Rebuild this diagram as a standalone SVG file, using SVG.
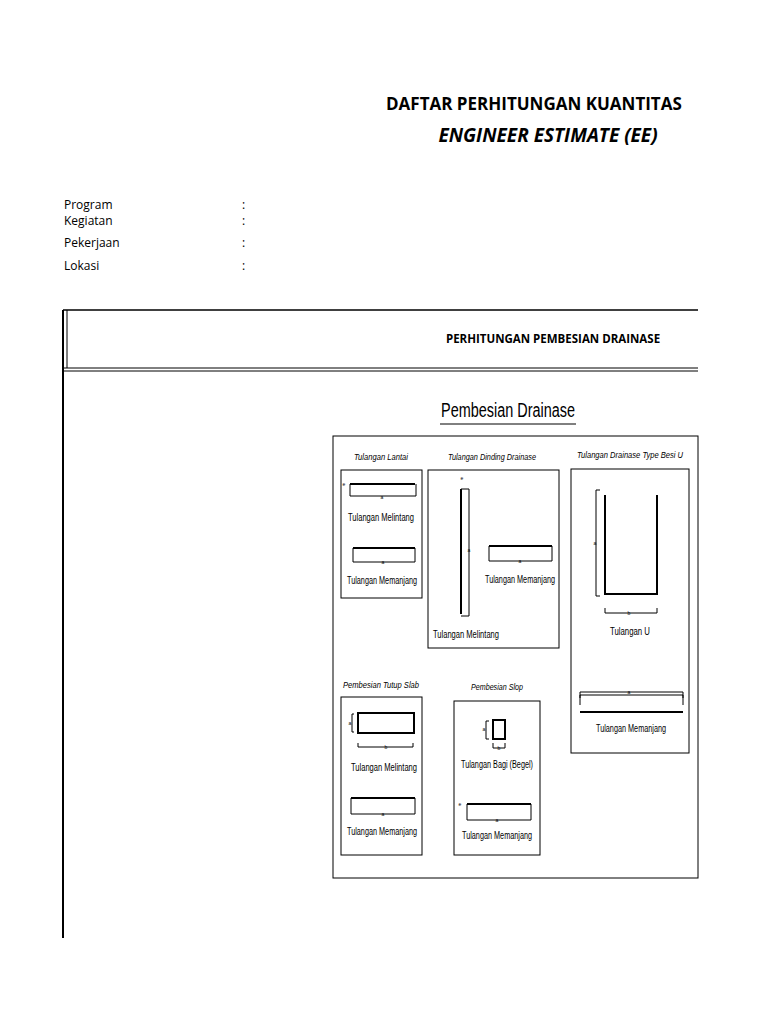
<svg xmlns="http://www.w3.org/2000/svg" width="768" height="1024" viewBox="0 0 768 1024">
<style>
.h{font-family:"Open Sans","Liberation Sans",sans-serif;font-weight:bold;fill:#000}
.f{font-family:"Open Sans","Liberation Sans",sans-serif;font-size:12px;fill:#000}
.n{font-family:"Liberation Sans",sans-serif;fill:#000;text-anchor:middle}
.s{font-size:10px}
.i{font-size:9px;font-style:italic}
.t{font-size:5px}
.box{fill:none;stroke:#000;stroke-width:1}
.bar{fill:none;stroke:#000;stroke-width:1}
.thk{fill:none;stroke:#000;stroke-width:2}
</style>
<defs><clipPath id="c"><rect x="0" y="0" width="699" height="1024"/></clipPath></defs>
<rect width="768" height="1024" fill="#fff"/>
<g clip-path="url(#c)">
<text class="h" x="386" y="110" font-size="17">DAFTAR PERHITUNGAN KUANTITAS</text>
</g>
<text class="h" x="548" y="142" font-size="19" font-style="italic" text-anchor="middle">ENGINEER ESTIMATE (EE)</text>
<g id="info" class="f">
<text x="64" y="209">Program</text><text x="242" y="209">:</text>
<text x="64" y="225">Kegiatan</text><text x="242" y="225">:</text>
<text x="64" y="247">Pekerjaan</text><text x="242" y="247">:</text>
<text x="64" y="270">Lokasi</text><text x="242" y="270">:</text>
</g>
<g id="frame" stroke="#000" fill="none">
<line x1="63" y1="310" x2="698" y2="310" stroke-width="1.5"/>
<line x1="63" y1="368" x2="698" y2="368" stroke-width="1"/>
<line x1="63" y1="371" x2="698" y2="371" stroke-width="1"/>
<line x1="63" y1="310" x2="63" y2="938" stroke-width="2"/>
<line x1="67" y1="310" x2="67" y2="368" stroke-width="1"/>
</g>
<text class="h" x="553" y="343" font-size="11.5" text-anchor="middle">PERHITUNGAN PEMBESIAN DRAINASE</text>
<text class="n" x="508" y="417" font-size="20" textLength="134" lengthAdjust="spacingAndGlyphs">Pembesian Drainase</text>
<line x1="440" y1="424" x2="576" y2="424" stroke="#000"/>
<rect x="333" y="436" width="365" height="442" class="box"/>
<g id="lantai">
<text class="n i" x="381" y="460" textLength="54" lengthAdjust="spacingAndGlyphs">Tulangan Lantai</text>
<rect x="341" y="470" width="81" height="128" class="box"/>
<path class="thk" d="M350 484 H415"/>
<path class="bar" d="M350 484 V496 H416 V484"/>
<text class="n t" x="344" y="486">e</text>
<text class="n t" x="382" y="499">a</text>
<text class="n s" x="381" y="521" textLength="66" lengthAdjust="spacingAndGlyphs">Tulangan Melintang</text>
<path class="thk" d="M353 548 H415"/>
<path class="bar" d="M353 548 V562 H415 V548"/>
<text class="n t" x="383" y="564">a</text>
<text class="n s" x="382" y="584" textLength="70" lengthAdjust="spacingAndGlyphs">Tulangan Memanjang</text>
</g>
<g id="dinding">
<text class="n i" x="492" y="460" textLength="88" lengthAdjust="spacingAndGlyphs">Tulangan Dinding Drainase</text>
<rect x="428" y="470" width="131" height="178" class="box"/>
<path class="thk" d="M461 489 V614"/>
<path class="bar" d="M461 489 H469 V616 H461"/>
<text class="n t" x="462" y="480">e</text>
<text class="n t" x="469" y="552">a</text>
<text class="n s" x="466" y="638" textLength="66" lengthAdjust="spacingAndGlyphs">Tulangan Melintang</text>
<path class="thk" d="M489 546 H552"/>
<path class="bar" d="M489 546 V561 H552 V546"/>
<text class="n t" x="520" y="563">a</text>
<text class="n s" x="520" y="583" textLength="70" lengthAdjust="spacingAndGlyphs">Tulangan Memanjang</text>
</g>
<g id="besiU">
<text class="n i" x="630" y="458" textLength="106" lengthAdjust="spacingAndGlyphs">Tulangan Drainase Type Besi U</text>
<rect x="571" y="469" width="118" height="284" class="box"/>
<path class="thk" d="M605 495 V594 H657 V495"/>
<path class="bar" d="M600 490 H596 V596 H600"/>
<text class="n t" x="595" y="545">a</text>
<path class="bar" d="M605 608 V613 H657 V608"/>
<text class="n t" x="629" y="615">b</text>
<text class="n s" x="630" y="635" textLength="40" lengthAdjust="spacingAndGlyphs">Tulangan U</text>
<path class="bar" d="M580 698 V695 H683 V698"/>
<path class="bar" d="M580 705 V692 H683 V705"/>
<path class="thk" d="M580 712 H683"/>
<text class="n t" x="629" y="694">a</text>
<text class="n s" x="631" y="732" textLength="70" lengthAdjust="spacingAndGlyphs">Tulangan Memanjang</text>
</g>
<g id="tutup">
<text class="n i" x="381" y="688" textLength="76" lengthAdjust="spacingAndGlyphs">Pembesian Tutup Slab</text>
<rect x="341" y="697" width="81" height="158" class="box"/>
<rect x="358" y="713" width="56" height="20" class="thk"/>
<path class="bar" d="M354 714 H352 V732 H354"/>
<text class="n t" x="350" y="725">a</text>
<path class="bar" d="M358 743 V747 H413 V743"/>
<text class="n t" x="386" y="749">b</text>
<text class="n s" x="384" y="771" textLength="66" lengthAdjust="spacingAndGlyphs">Tulangan Melintang</text>
<path class="thk" d="M351 798 H415"/>
<path class="bar" d="M351 798 V814 H415 V798"/>
<text class="n t" x="383" y="816">a</text>
<text class="n s" x="382" y="835" textLength="70" lengthAdjust="spacingAndGlyphs">Tulangan Memanjang</text>
</g>
<g id="slop">
<text class="n i" x="497" y="690" textLength="52" lengthAdjust="spacingAndGlyphs">Pembesian Slop</text>
<rect x="454" y="701" width="86" height="154" class="box"/>
<rect x="493" y="720" width="12" height="19" class="thk"/>
<path class="bar" d="M489 721 H486 V739 H489"/>
<text class="n t" x="484" y="731">a</text>
<path class="bar" d="M493 743 V748 H505 V743"/>
<text class="n t" x="499" y="750">b</text>
<text class="n s" x="497" y="768" textLength="72" lengthAdjust="spacingAndGlyphs">Tulangan Bagi (Begel)</text>
<path class="thk" d="M467 804 H531"/>
<path class="bar" d="M467 804 V820 H531 V804"/>
<text class="n t" x="460" y="806">e</text>
<text class="n t" x="497" y="822">a</text>
<text class="n s" x="497" y="839" textLength="70" lengthAdjust="spacingAndGlyphs">Tulangan Memanjang</text>
</g>
</svg>
